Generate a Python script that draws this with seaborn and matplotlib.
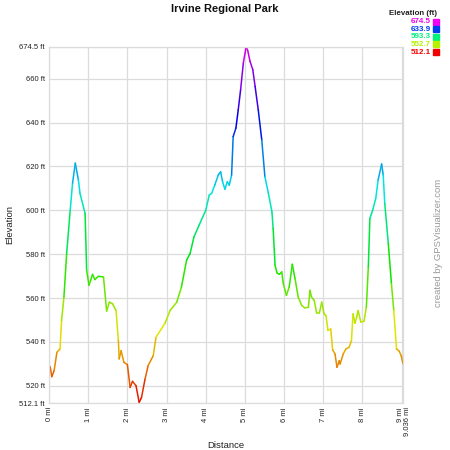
import colorsys
import numpy as np
import pandas as pd
import matplotlib
matplotlib.use('Agg')
import matplotlib.pyplot as plt
import matplotlib.transforms as mtransforms
import seaborn as sns

# 1. profile data
distance_mi = [0.0, 0.03, 0.07, 0.13, 0.2, 0.28, 0.32, 0.38, 0.45, 0.54, 0.6, 0.67,
               0.75, 0.79, 0.92, 0.96, 1.02, 1.06, 1.11, 1.17, 1.26, 1.39, 1.47, 1.54,
               1.62, 1.71, 1.77, 1.79, 1.84, 1.91, 2.0, 2.07, 2.13, 2.22, 2.3, 2.36,
               2.45, 2.53, 2.66, 2.73, 2.96, 3.09, 3.26, 3.38, 3.51, 3.6, 3.7, 3.83,
               4.0, 4.09, 4.15, 4.23, 4.32, 4.38, 4.43, 4.49, 4.55, 4.6, 4.66, 4.7,
               4.77, 4.83, 4.89, 4.96, 5.03, 5.07, 5.13, 5.2, 5.26, 5.34, 5.43, 5.51,
               5.6, 5.69, 5.72, 5.77, 5.82, 5.88, 5.94, 5.98, 6.06, 6.13, 6.21, 6.28,
               6.36, 6.45, 6.53, 6.62, 6.66, 6.7, 6.77, 6.83, 6.9, 6.96, 7.02, 7.07,
               7.12, 7.19, 7.24, 7.3, 7.35, 7.41, 7.43, 7.51, 7.58, 7.66, 7.72, 7.76,
               7.81, 7.85, 7.89, 7.96, 8.04, 8.1, 8.15, 8.19, 8.26, 8.34, 8.4, 8.49,
               8.53, 8.57, 8.66, 8.74, 8.8, 8.87, 8.94, 8.99, 9.036]
elevation_ft = [529.2, 528.5, 524.1, 526.9, 535.2, 536.8, 549.7, 560.4, 580.4, 600.0, 612.4, 621.5,
                613.8, 607.7, 598.6, 572.6, 565.8, 568.0, 570.8, 568.4, 569.9, 569.6, 554.0, 558.1,
                557.4, 554.3, 540.6, 532.2, 536.0, 530.7, 529.6, 519.2, 522.0, 520.0, 512.4, 514.6,
                523.0, 529.2, 533.7, 542.1, 548.5, 554.3, 558.1, 565.0, 577.2, 580.3, 587.9, 593.2,
                600.0, 607.0, 607.7, 611.5, 616.1, 617.6, 613.0, 609.6, 613.0, 611.5, 616.1, 633.6,
                637.5, 645.9, 655.0, 667.2, 674.5, 673.0, 668.0, 664.2, 656.5, 645.9, 632.1, 615.3,
                607.7, 599.3, 591.7, 574.9, 571.4, 570.8, 571.9, 566.5, 561.2, 565.0, 575.4, 568.8,
                560.4, 556.6, 555.5, 555.8, 563.5, 560.4, 558.9, 553.1, 553.1, 558.1, 552.8, 552.0,
                545.2, 545.9, 536.3, 534.5, 528.4, 531.4, 529.9, 534.5, 536.8, 537.5, 540.6, 552.8,
                548.5, 551.0, 554.3, 549.0, 549.4, 555.8, 574.1, 596.3, 600.0, 605.4, 613.8, 621.1,
                616.1, 603.1, 584.9, 566.5, 554.3, 536.8, 535.7, 533.7, 530.0]

y_ticks = [512.1, 520, 540, 560, 580, 600, 620, 640, 660, 674.5]
x_ticks = [0, 1, 2, 3, 4, 5, 6, 7, 8, 9, 9.036]
legend_values = [674.5, 633.9, 593.3, 552.7, 512.1]

ELEV_MIN, ELEV_MAX = 512.1, 674.5


# 2. colour by elevation: red (low) -> magenta (high)
def elev_color(v, value=0.9):
    frac = (v - ELEV_MIN) / (ELEV_MAX - ELEV_MIN)
    return colorsys.hsv_to_rgb(frac * 300 / 360, 1.0, value)


# 3. long-form table, one short segment per pair of points
rows = []
for i in range(len(distance_mi) - 1):
    for j in (i, i + 1):
        rows.append({'seg': i, 'dist': distance_mi[j], 'elev': elevation_ft[j]})
df = pd.DataFrame(rows)
seg_colors = [elev_color((elevation_ft[i] + elevation_ft[i + 1]) / 2)
              for i in range(len(distance_mi) - 1)]

# 4. plot
sns.set_theme(style='whitegrid')
plt.rcParams['font.family'] = ['Liberation Sans', 'DejaVu Sans']

fig = plt.figure(figsize=(4.5, 4.5), dpi=100)
ax = fig.add_axes([0.109, 0.1044, 0.7866, 0.7912])

sns.lineplot(data=df, x='dist', y='elev', hue='seg', palette=seg_colors,
             estimator=None, sort=False, legend=False, linewidth=1.1,
             solid_capstyle='round', ax=ax)

ax.set_xlim(0, 9.036)
ax.set_ylim(ELEV_MIN, ELEV_MAX)
ax.set_facecolor('white')
ax.grid(True, color='#dcdcdc', linewidth=0.9)
for s in ax.spines.values():
    s.set_color('#dcdcdc')
    s.set_linewidth(0.9)

ax.set_yticks(y_ticks)
ax.set_yticklabels([f'{v:g} ft' for v in y_ticks])
ax.set_xticks(x_ticks)
ax.set_xticklabels([f'{v:g} mi' for v in x_ticks], rotation=90)
ax.tick_params(axis='both', length=0, labelsize=5.5, colors='#222222', pad=3)

# nudge the two last x labels apart like the reference
xlabels = ax.get_xticklabels()
xlabels[-2].set_transform(xlabels[-2].get_transform() +
                          mtransforms.ScaledTranslation(-1.5 / 100, 0, fig.dpi_scale_trans))
xlabels[-1].set_transform(xlabels[-1].get_transform() +
                          mtransforms.ScaledTranslation(4 / 100, 0, fig.dpi_scale_trans))

ax.set_xlabel('Distance', fontsize=6.8, color='#222222')
ax.xaxis.set_label_coords(0.5, -0.107)
ax.set_ylabel('Elevation', fontsize=6.8, color='#222222')
ax.yaxis.set_label_coords(-0.099, 0.5)

fig.text(0.5, 0.979, 'Irvine Regional Park', ha='center', va='center',
         fontsize=8, fontweight='bold', color='#111111')

# legend, top right
fig.text(0.971, 0.970, 'Elevation (ft)', ha='right', va='center',
         fontsize=5.7, fontweight='bold', color='#222222')
leg_y = [0.952, 0.935, 0.918, 0.902, 0.884]
for v, yy in zip(legend_values, leg_y):
    c = elev_color(v, value=0.95)
    fig.text(0.957, yy, f'{v:g}', ha='right', va='center',
             fontsize=5.8, fontweight='bold', color=c)
    fig.patches.append(plt.Rectangle((0.962, yy - 0.0066), 0.0133, 0.0133,
                                     transform=fig.transFigure, color=c,
                                     figure=fig))

fig.text(0.974, 0.46, 'created by GPSVisualizer.com', rotation=90,
         ha='center', va='center', fontsize=6.8, color='#999999')

plt.savefig('out.png', dpi=100)
